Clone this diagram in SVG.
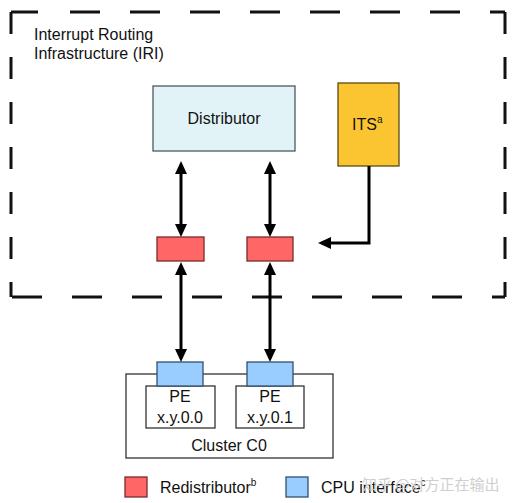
<svg xmlns="http://www.w3.org/2000/svg" width="515" height="503" viewBox="0 0 515 503">
<style>
text{font-family:"Liberation Sans",Arial,sans-serif;font-size:16px;fill:#111}
.c{text-anchor:middle}
.sup{font-size:10px}
.dh{stroke:#111;stroke-width:3;fill:none;stroke-dasharray:30 30}
.dv{stroke:#111;stroke-width:3;fill:none;stroke-dasharray:22 23}
.red{fill:#ff6666;stroke:#7a2a2a;stroke-width:1.3}
.blue{fill:#99ccff;stroke:#34506a;stroke-width:1.3}
.conn{stroke:#000;stroke-width:3;fill:none}
</style>
<defs>
<marker id="ah" viewBox="0 0 13 12" refX="5" refY="6" markerWidth="13" markerHeight="12" markerUnits="userSpaceOnUse" orient="auto-start-reverse">
<path d="M0,0 L13,6 L0,12 z" fill="#000"/>
</marker>
</defs>
<rect width="515" height="503" fill="#fff"/>
<g id="iri">
<path class="dh" d="M11,12 H38" stroke-dasharray="none"/>
<path class="dh" d="M70,12 H505"/>
<path class="dv" d="M11,12 V297"/>
<path class="dv" d="M505,12 V297"/>
<path class="dh" d="M11,297 H505" style="stroke-dashoffset:-1"/>
<text x="34" y="40">Interrupt Routing</text>
<text x="34" y="59">Infrastructure (IRI)</text>
</g>
<g id="distributor">
<rect x="153" y="86" width="142" height="65" fill="#e2f3f8" stroke="#4c5a60" stroke-width="1.3"/>
<text class="c" x="224" y="124">Distributor</text>
</g>
<g id="its">
<rect x="338" y="83" width="61" height="83" fill="#fbc531" stroke="#5a4a12" stroke-width="1.3"/>
<text x="352" y="130">ITS<tspan class="sup" dy="-7">a</tspan></text>
</g>
<g id="redist0"><rect class="red" x="157" y="237" width="47" height="24"/></g>
<g id="redist1"><rect class="red" x="247" y="237" width="46" height="24"/></g>
<g id="cluster">
<rect x="126" y="374" width="207" height="84" fill="#fff" stroke="#333" stroke-width="1.3"/>
<text class="c" x="229" y="451">Cluster C0</text>
</g>
<g id="pe0">
<rect x="146" y="386" width="69" height="42" fill="#fff" stroke="#333" stroke-width="1.3"/>
<rect class="blue" x="157" y="362" width="46" height="24"/>
<text class="c" x="180" y="402">PE</text>
<text class="c" x="180" y="423">x.y.0.0</text>
</g>
<g id="pe1">
<rect x="236" y="386" width="68" height="42" fill="#fff" stroke="#333" stroke-width="1.3"/>
<rect class="blue" x="247" y="362" width="46" height="24"/>
<text class="c" x="270" y="402">PE</text>
<text class="c" x="270" y="423">x.y.0.1</text>
</g>
<g id="connectors">
<line class="conn" x1="181" y1="169" x2="181" y2="229" marker-start="url(#ah)" marker-end="url(#ah)"/>
<line class="conn" x1="270" y1="169" x2="270" y2="229" marker-start="url(#ah)" marker-end="url(#ah)"/>
<line class="conn" x1="181" y1="270" x2="181" y2="354" marker-start="url(#ah)" marker-end="url(#ah)"/>
<line class="conn" x1="270" y1="270" x2="270" y2="354" marker-start="url(#ah)" marker-end="url(#ah)"/>
<polyline class="conn" points="369,166 369,243 326,243" marker-end="url(#ah)"/>
</g>
<g id="legend">
<rect class="red" x="125" y="477" width="22" height="20"/>
<text x="160" y="493">Redistributor<tspan class="sup" dy="-7">b</tspan></text>
<rect class="blue" x="286" y="477" width="22" height="20"/>
<text x="321" y="493">CPU interface<tspan class="sup" dy="-7">c</tspan></text>
</g>
<text x="362" y="490" style="font-family:'Noto Sans CJK SC','Liberation Sans',sans-serif;font-size:15px;fill:#cfcfcf">知乎 @对方正在输出</text>
</svg>
